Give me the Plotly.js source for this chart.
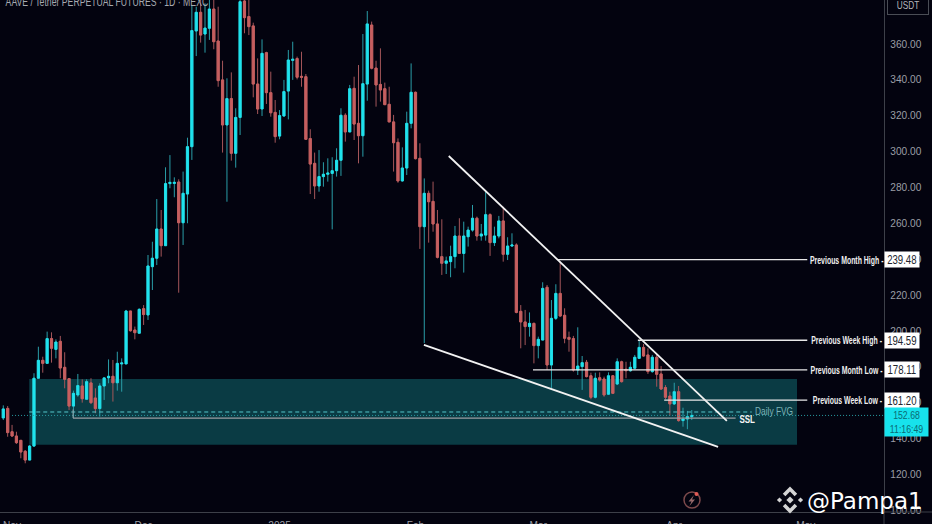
<!DOCTYPE html>
<html><head><meta charset="utf-8">
<script src="https://cdn.plot.ly/plotly-3.0.1.min.js"></script>
<style>html,body{margin:0;padding:0;background:#03030f;overflow:hidden}</style></head>
<body><div id="chart" style="width:932px;height:524px"></div>
<script>
const firstDay = '2024-10-30';
const opens = [151.3,156.6,143.6,141.2,138.8,132.7,127.8,135.6,173.4,183.4,
181.7,195.5,189.5,194,179.5,173.2,157.9,164.1,169.1,161.7,
170.8,162.4,156.5,169.1,173.6,174.5,170.9,181.4,181.4,210.9,
200.3,198.5,212.2,208.7,235.6,240.3,256.6,247.3,281.9,282,
282.8,260.1,276.1,302.5,367,377.4,365.3,368.5,379.2,361.4,
339.7,314.6,329.3,298.8,318.8,383.7,375,369.8,337.4,323.5,
354.9,332.6,321.6,308.4,319.6,333.5,350.6,351.6,341.7,341.5,
307,293.2,280.6,285.8,287.1,287.6,289.1,294.9,320,310.7,
335,315.5,308.6,337.4,370.3,346.3,337.2,334.8,326.1,316.3,
304.9,283.4,290.6,315.5,332.8,296,257.9,276.5,272,259.4,
241.2,237.5,238.4,241.2,252.7,243,252.3,256,262.6,252.7,
253.2,264.6,249,252.7,261.1,242.5,247.1,247.7,210.7,204.8,
202.2,204,191.6,194.7,224.1,180.8,206.8,220.7,208.5,196.2,
195.5,178,179.9,182.3,174.8,162.8,173.7,173,164.5,174.8,
170.2,182.6,178.4,177.6,179,184.5,190.6,186.4,177.1,185.1,
175.8,168.2,163.5,159.1,165.9,149.8,150.7,152];
const closes = [156.3,143.1,141.2,137.5,132.3,127.8,135.6,173.4,183.4,181.7,
195.5,190.1,193.6,179.1,172.8,157.9,165,169.3,162,171.5,
159.8,156.5,169.1,173.6,174.5,170.9,181.7,181.9,210.9,199.9,
198.8,211.8,208.9,236,240.3,256.6,247.3,281.9,282.6,282.6,
260.1,276.5,302.5,367.2,377.4,364.7,368.6,379.2,361,339.3,
314.6,329.3,298.8,318.8,383.3,374.4,369.4,337.4,323.5,354.5,
332.6,321.4,308.1,319.8,333.2,350.8,351.2,341.2,341.2,306.6,
292.8,280.6,285.8,287.1,287.8,289.1,294.9,320,310.7,334.8,
315.1,308.6,337.6,370.9,346.2,336.9,334.1,325.9,316.3,304.7,
283.4,290.6,315.5,332.8,295.8,257.9,276.5,271.8,259.4,240.8,
237.5,238.8,241.2,252.7,243,252.7,256,262.6,252.7,253.8,
264.6,249,252.7,261.1,242.5,247.1,247.7,210.1,204.8,202.2,
204,191.6,195.1,223.5,180.8,206.8,220.7,208.1,195.7,195.1,
178,180.2,182.1,174.3,162.8,173.4,172.4,164.1,174.8,165,
182.6,171.5,177.6,179.5,185.1,190.6,185.8,177.1,185.1,175.6,
167.4,162.8,159.1,165.9,149.8,150.7,152,152.68];
const highs = [158.3,157.9,147.4,143.6,139,133.4,136.2,176.2,191,185.4,
199.4,199,195.1,197,187.9,173.4,166.5,175.8,172.8,172.8,
173.4,167.8,170.6,173.9,183.9,183.6,188.2,184.5,211.5,210.9,
202.2,212.4,214.2,242.1,249.5,273.3,267.2,291,297.8,285.4,
284.3,288.6,307.5,381.5,380.5,390,382.4,390,392,380.5,
350.4,340.6,343.9,323.9,390,392,385,371.6,351.7,362.3,
355.4,344.3,328.5,322.9,339.7,356.4,361,352.7,355.4,343,
312.2,299.2,300.6,293.8,296,296.6,301.6,323.9,321.1,336.9,
341.5,348,365.3,378.1,372.2,350.4,357.3,338.2,335.9,320.2,
307.1,302.1,322,348.9,333.2,304.4,284.8,278,283,267.2,
262,241.2,247.3,258.3,262.6,260.7,257.9,270,263.5,259.4,
278.3,265.3,257.9,263.9,269,252,254.2,248.6,214.2,211.5,
210.1,204.4,196.6,226.9,225.4,217,225.8,238.4,212.4,199.4,
197,201.8,185.8,183.6,176.5,176.5,176.7,174.3,176.7,175.2,
184.5,183.2,182.6,182.6,186.4,194.4,192.5,190.1,186.4,186.4,
180.2,169.6,165.9,170.9,169.1,157,155.2,155.7];
const lows = [150.1,140.8,140.8,136.8,128.8,126,127.8,135.3,173.4,176.5,
181.7,182.1,184.5,173.4,167.8,155.7,151.1,163.1,159.8,161.7,
159,153.9,152,161.3,170.6,160.4,166.5,165.9,181.4,199.4,
195.1,198.5,203.1,205.9,222.6,236.5,241.2,247.3,279.3,274.3,
221.1,247.7,259.8,295.1,353,360.5,354.9,362,356.8,335.9,
299.2,271.8,294.7,290.8,309,365.7,364.7,330,320.7,319.6,
326.3,319.2,304.7,306.6,319.2,317.7,339.7,340,335.9,306.2,
276.1,273.3,277.4,280.2,283,256.4,285.8,286.2,305.3,310.7,
306.2,293.2,296.9,328.1,345.6,324.8,327.6,325.7,316.1,288.6,
282.4,283,286.7,312.7,295.4,245.5,193,249,255.1,240.2,
231,231.5,229.7,234.7,242.7,232.3,246.8,255.1,250.1,250.1,
250.1,241.6,247.1,251.4,238.4,239.3,246.8,209.6,190.1,191.9,
196.6,181.7,184.5,194.7,178,167.8,205.9,207.7,192.9,188.2,
177.1,175.2,166.9,173.9,161.7,162.2,171.5,163.1,164.1,164.6,
169.6,171,173.4,177.1,178.4,184.2,185.4,175.8,176.5,168.7,
166.9,161.7,152.6,158.5,149.2,146.4,145,150.1];

const yTicks = [100,120,140,160,180,200,220,240,260,280,300,320,340,360];
const xTickDates = ['2024-11-01','2024-12-01','2025-01-01','2025-02-01','2025-03-01','2025-04-01','2025-05-01'];
const xTickLabels = ['Nov','Dec','2025','Feb','Mar','Apr','May'];

const levelNames = ['Previous Month High','Previous Week High','Previous Month Low','Previous Week Low'];
const levelPrices = [239.48,194.59,178.11,161.20];
const levelStarts = ['2025-03-05 12:00','2025-03-23 17:00','2025-02-27 19:00','2025-03-29 17:00'];
const levelEnd = '2025-05-01 08:00';
const zoneDates = ['2024-11-04 22:00','2025-04-29 00:00'];
const zonePrices = [136.4,173];
const zoneMid = 154.6;
const zoneMidEnd = '2025-04-18 16:00';
const sslPrice = 151.2;
const sslDates = ['2024-11-14 22:00','2025-04-15 00:00'];
const lastPrice = 152.68;
const upperWedgeDates = ['2025-02-08 14:00','2025-04-13 00:00'];
const upperWedgePrices = [297.3,149.6];
const lowerWedgeDates = ['2025-02-02 22:00','2025-04-11 00:00'];
const lowerWedgePrices = [192,135.1];

const dates = closes.map((_, i) => {
  const d = new Date(firstDay + 'T00:00:00Z'); d.setUTCDate(d.getUTCDate() + i);
  return d.toISOString().slice(0, 10);
});

const UP='#1fe3ee', DOWN='#c75f60', UPW='#2a9ea8', DOWNW='#a4565a';
const wicks = {type:'candlestick',x:dates,open:opens,high:highs,low:lows,close:closes,
  increasing:{line:{color:UPW,width:1},fillcolor:'rgba(0,0,0,0)'},
  decreasing:{line:{color:DOWNW,width:1},fillcolor:'rgba(0,0,0,0)'},hoverinfo:'skip',showlegend:false};
const bodies = {type:'candlestick',x:dates,open:opens,close:closes,
  high:opens.map((o,i)=>Math.max(o,closes[i])),low:opens.map((o,i)=>Math.min(o,closes[i])),
  increasing:{line:{color:UP,width:0.8},fillcolor:UP},
  decreasing:{line:{color:DOWN,width:0.8},fillcolor:DOWN},hoverinfo:'skip',showlegend:false};

const WH='#e8e8e8';
const shapes = [
 {type:'rect',layer:'below',xref:'x',yref:'y',x0:zoneDates[0],x1:zoneDates[1],y0:zonePrices[0],y1:zonePrices[1],fillcolor:'#0a3b44',line:{width:0}},
 {type:'line',xref:'x',yref:'y',x0:zoneDates[0],x1:zoneMidEnd,y0:zoneMid,y1:zoneMid,line:{color:'#56c8cc',width:1,dash:'4px,3px'}},
 {type:'line',xref:'x',yref:'y',x0:'2024-11-01',x1:'2025-05-19',y0:lastPrice,y1:lastPrice,line:{color:'#2a9da2',width:1,dash:'1px,2px'}},
 {type:'line',xref:'x',yref:'y',x0:sslDates[0],x1:sslDates[1],y0:sslPrice,y1:sslPrice,line:{color:'#9c9ea2',width:1.2}},
 {type:'line',xref:'x',yref:'y',x0:sslDates[0],x1:sslDates[0],y0:sslPrice,y1:156,line:{color:'#9c9ea2',width:1}},
 {type:'line',xref:'x',yref:'y',x0:upperWedgeDates[0],x1:upperWedgeDates[1],y0:upperWedgePrices[0],y1:upperWedgePrices[1],line:{color:'#f2f2f2',width:1.8}},
 {type:'line',xref:'x',yref:'y',x0:lowerWedgeDates[0],x1:lowerWedgeDates[1],y0:lowerWedgePrices[0],y1:lowerWedgePrices[1],line:{color:'#f2f2f2',width:1.8}},
];
levelPrices.forEach((p,i)=>{
  shapes.push({type:'line',xref:'x',yref:'y',x0:levelStarts[i],x1:levelEnd,y0:p,y1:p,line:{color:WH,width:1.3}});
});

const FONT='"Liberation Sans",Arial,sans-serif';
const W=884,H=512;
const annotations = [], squeeze = [];
function note(a,f){annotations.push(a);squeeze.push(f);}
levelNames.forEach((n,i)=>{
  note({xref:'paper',yref:'y',x:847/W,y:levelPrices[i],xanchor:'center',yanchor:'middle',showarrow:false,
    text:'<b>'+n+' -</b>',font:{family:FONT,size:10.5,color:'#f0f0f0'}},0.66);
  note({xref:'paper',yref:'y',x:1,y:levelPrices[i],xanchor:'left',yanchor:'middle',xshift:0,showarrow:false,
    text:levelPrices[i].toFixed(2),width:32,height:13,bgcolor:'#ffffff',font:{family:FONT,size:12,color:'#22262e'}},0.8);
});
note({xref:'paper',yref:'y',x:1,y:149,xanchor:'left',yanchor:'middle',showarrow:false,
  text:lastPrice.toFixed(2)+'<br>11:16:49',width:41,height:26,bgcolor:'#17e2ec',font:{family:FONT,size:11.5,color:'#0a6a74'}},0.76);
note({xref:'paper',yref:'y',x:774/W,y:155,xanchor:'center',yanchor:'middle',showarrow:false,
  text:'Daily FVG',font:{family:FONT,size:11,color:'#7db4b8'}},0.76);
note({xref:'paper',yref:'y',x:747/W,y:150.8,xanchor:'center',yanchor:'middle',showarrow:false,
  text:'<b>SSL</b>',font:{family:FONT,size:10.5,color:'#f4f4f4'}},0.76);
note({xref:'paper',yref:'paper',x:107/W,y:1,xanchor:'center',yanchor:'middle',yshift:-2,showarrow:false,
  text:'AAVE / Tether PERPETUAL FUTURES · 1D · MEXC',font:{family:FONT,size:12,color:'#a6a9b0'}},0.724);
note({xref:'paper',yref:'paper',x:1,y:1,xanchor:'left',yanchor:'middle',xshift:3,yshift:-4,showarrow:false,
  text:'USDT',width:38,height:17,bordercolor:'#4a4d55',borderwidth:1,bgcolor:'#03030f',font:{family:FONT,size:11.5,color:'#b4b6bc'}},0.72);
note({xref:'paper',yref:'paper',x:1,y:0,xanchor:'right',yanchor:'middle',xshift:41,yshift:11,showarrow:false,
  text:'@Pampa1',font:{family:'"DejaVu Sans",sans-serif',size:23,color:'#ffffff'}},1);

// Pixel-anchored decorations (logos, axis rule)
const px=(x)=>x/W, py=(y)=>1-y/H;
function diamond(cx,cy,r,col){return {type:'path',xref:'paper',yref:'paper',fillcolor:col,line:{width:0},
  path:`M ${px(cx-r)} ${py(cy)} L ${px(cx)} ${py(cy-r)} L ${px(cx+r)} ${py(cy)} L ${px(cx)} ${py(cy+r)} Z`};}
const bc='#d4d4d4';
shapes.push(diamond(790,500,3.6,bc),diamond(779.5,500,2.6,bc),diamond(800.5,500,2.6,bc));
function cap(sign){const c=790,y=500,o=13.5,i=8.4,s=7.2,w=3.6;
  const pts=[[c-s,y+sign*(-o+s)],[c,y-sign*o],[c+s,y+sign*(-o+s)],[c+s-w*.72,y+sign*(-o+s+w*.72)],[c,y-sign*i],[c-s+w*.72,y+sign*(-o+s+w*.72)]];
  return {type:'path',xref:'paper',yref:'paper',fillcolor:bc,line:{width:0},
    path:'M '+pts.map(p=>px(p[0])+' '+py(p[1])).join(' L ')+' Z'};}
shapes.push(cap(1),cap(-1));
shapes.push({type:'circle',xref:'paper',yref:'paper',x0:px(684),x1:px(700),y0:py(508),y1:py(492),line:{color:'#7d4a4c',width:1.5},fillcolor:'rgba(0,0,0,0)'});
shapes.push({type:'path',xref:'paper',yref:'paper',fillcolor:'#96696b',line:{width:0},
  path:`M ${px(694)} ${py(495)} L ${px(688.5)} ${py(501.5)} L ${px(691.5)} ${py(501.5)} L ${px(689.5)} ${py(506)} L ${px(695)} ${py(499.5)} L ${px(692)} ${py(499.5)} Z`});
shapes.push({type:'circle',xref:'paper',yref:'paper',x0:px(694.5),x1:px(698.5),y0:py(496),y1:py(492),line:{width:0},fillcolor:'#e05a55'});
shapes.push({type:'line',xref:'paper',yref:'paper',x0:1,x1:px(932),y0:0,y1:0,line:{color:'#3d4049',width:1}});
shapes.push({type:'line',xref:'paper',yref:'paper',x0:1,x1:1,y0:0,y1:py(524),line:{color:'#3d4049',width:1}});

const layout = {
  width:932,height:524,margin:{l:0,r:48,t:0,b:12},
  paper_bgcolor:'#03030f',plot_bgcolor:'#03030f',showlegend:false,
  font:{family:FONT,color:'#9b9ea6'},
  xaxis:{type:'date',range:['2024-10-29 06:00','2025-05-18 20:00'],rangeslider:{visible:false},
    tickmode:'array',tickvals:xTickDates,ticktext:xTickLabels,showgrid:false,zeroline:false,
    showline:true,linecolor:'#3d4049',linewidth:1,ticks:'',ticklabelstandoff:2,
    tickfont:{family:FONT,size:11.5,color:'#9b9ea6'},automargin:false},
  yaxis:{side:'right',range:[98.85,384.25],tickmode:'array',tickvals:yTicks,
    ticktext:yTicks.map(v=>v.toFixed(2)),showgrid:false,zeroline:false,showline:true,
    linecolor:'#3d4049',linewidth:1,ticks:'',ticklabelstandoff:3,
    tickfont:{family:FONT,size:11.5,color:'#9b9ea6'},automargin:false},
  shapes,annotations
};
function narrow(el,f){
  const len=el.getComputedTextLength();
  if(len>0){el.setAttribute('textLength',(len*f).toFixed(1));el.setAttribute('lengthAdjust','spacingAndGlyphs');}
}
Plotly.newPlot('chart',[wicks,bodies],layout,{displayModeBar:false,staticPlot:true}).then(gd=>{
  gd.querySelectorAll('.xtick text,.ytick text').forEach(t=>narrow(t,0.88));
  gd.querySelectorAll('.annotation').forEach((g,i)=>{
    const t=g.querySelector('text.annotation-text'); if(!t||squeeze[i]===1)return;
    const lines=t.querySelectorAll('tspan.line');
    if(lines.length){lines.forEach(l=>narrow(l,squeeze[i]));}else{narrow(t,squeeze[i]);}
  });
});
</script></body></html>
